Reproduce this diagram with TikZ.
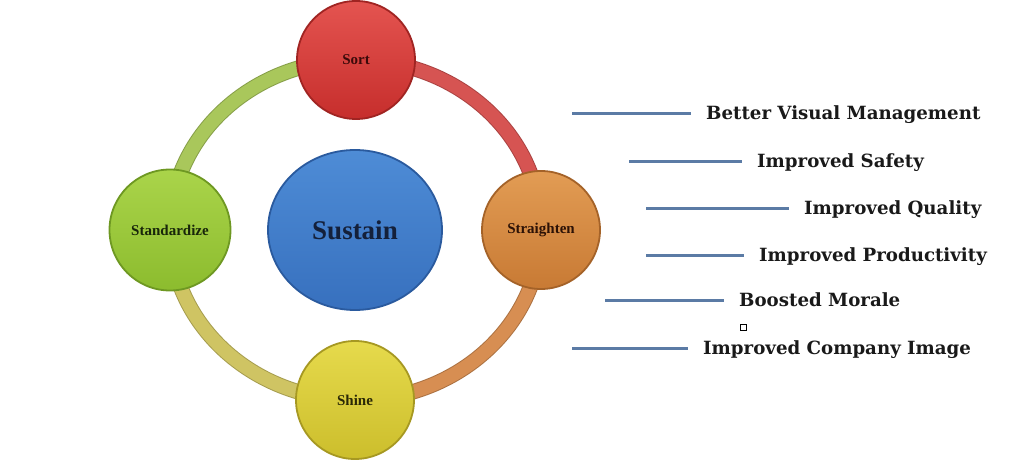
\documentclass[tikz,border=0pt]{standalone}
\usepackage{fontspec}
\setmainfont{Liberation Serif}
\newfontfamily\listfont{DejaVu Serif}
\usetikzlibrary{shapes.geometric}

\definecolor{ringred}{HTML}{D65452}
\definecolor{ringorange}{HTML}{D78E52}
\definecolor{ringyellow}{HTML}{CFC463}
\definecolor{ringgreen}{HTML}{A9C75B}
\definecolor{linkblue}{HTML}{5B7BA5}

\tikzset{
  ring/.style={line width=1pt, double distance=13.5pt, line cap=butt},
  ball/.style={circle, minimum size=118pt, inner sep=0pt, line width=1.8pt,
    font=\bfseries\fontsize{15}{15}\selectfont},
  benefit/.style={anchor=west, inner sep=0pt, text height=13pt, text depth=4pt,
    text=black!90, font=\listfont\bfseries\fontsize{18.2}{18.2}\selectfont},
  benefitline/.style={line width=3pt, draw=linkblue}
}

\begin{document}
\begin{tikzpicture}[x=1pt, y=1pt]
        \useasboundingbox (0,0) rectangle (1010,466);
        \coordinate (c-sort) at (356,406);
        \coordinate (c-str) at (541,236);
        \coordinate (c-shine) at (355,66);
        \coordinate (c-stdz) at (170,236);
        % ring behind the balls
        \foreach \from/\a/\b/\col in {c-sort/90/0/ringred, c-str/0/-90/ringorange,
                c-shine/270/180/ringyellow, c-stdz/180/90/ringgreen}
            \draw[ring, draw=\col!80!black, double=\col] (\from)
                arc[start angle=\a, end angle=\b, x radius=185pt, y radius=170pt];
        \node[ball, top color={rgb,255:red,228;green,84;blue,80},
            bottom color={rgb,255:red,198;green,46;blue,44},
            draw={rgb,255:red,160;green,36;blue,34},
            text={rgb,255:red,60;green,10;blue,10}] (sort) at (c-sort) {Sort};
        \node[ball, top color={rgb,255:red,226;green,156;blue,84},
            bottom color={rgb,255:red,200;green,122;blue,52},
            draw={rgb,255:red,164;green,98;blue,40},
            text={rgb,255:red,44;green,18;blue,6}] (straighten) at (c-str) {Straighten};
        \node[ball, top color={rgb,255:red,230;green,218;blue,76},
            bottom color={rgb,255:red,204;green,190;blue,44},
            draw={rgb,255:red,166;green,152;blue,34},
            text={rgb,255:red,42;green,40;blue,6}] (shine) at (c-shine) {Shine};
        \node[ball, minimum size=121pt, top color={rgb,255:red,170;green,212;blue,74},
            bottom color={rgb,255:red,140;green,188;blue,46},
            draw={rgb,255:red,110;green,152;blue,34},
            text={rgb,255:red,24;green,38;blue,10}] (stdz) at (c-stdz) {Standardize};
        \node[ellipse, minimum width=174pt, minimum height=160pt, line width=1.8pt,
            top color={rgb,255:red,78;green,140;blue,214},
            bottom color={rgb,255:red,55;green,112;blue,190},
            draw={rgb,255:red,42;green,90;blue,158},
            text={rgb,255:red,20;green,32;blue,58},
            font=\bfseries\fontsize{27}{27}\selectfont] (sustain) at (355,236) {Sustain};
        % benefits on the right
        \foreach \sx/\tx/\y/\txt [count=\i] in {572/706/351/Better Visual Management,
                629/757/303/Improved Safety, 646/804/256/Improved Quality,
                646/759/209/Improved Productivity, 605/739/164/Boosted Morale,
                572/703/116/Improved Company Image}
        {
            \node[benefit] (b\i) at (\tx,\y) {\txt};
            \coordinate (s\i) at (\sx,\y+1);
            \draw[benefitline, shorten >=15pt] (s\i) -- (s\i -| b\i.west);
        }
        \node[draw, line width=0.8pt, minimum size=6pt, inner sep=0pt] (dot) at (743,139) {};
    \end{tikzpicture}
\end{document}
